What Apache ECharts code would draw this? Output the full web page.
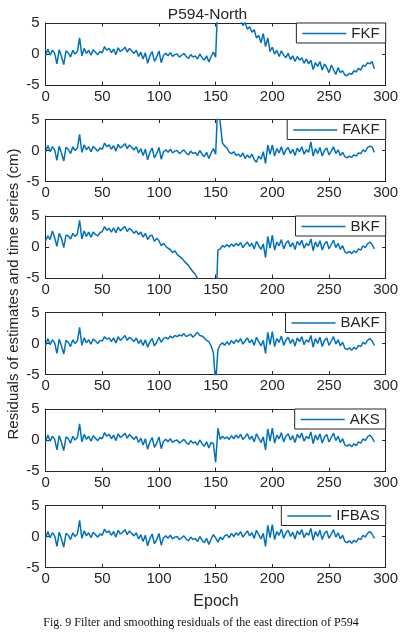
<!DOCTYPE html>
<html>
<head>
<meta charset="utf-8">
<title>P594-North</title>
<script src="https://cdn.jsdelivr.net/npm/echarts@6/dist/echarts.min.js"></script>
<style>
  html, body { margin: 0; padding: 0; background: #fff; }
  #chart { width: 415px; height: 638px; }
</style>
</head>
<body>
<div id="chart"></div>
<script>
// residuals (cm), one value every 2 epochs, epoch 0 .. 290
const epochStep = 2;
const names = ['FKF', 'FAKF', 'BKF', 'BAKF', 'AKS', 'IFBAS'];
const xTickStep = 50;
const yTickStep = 5;

const fkf = [
  -0.3, 0.8, -0.2, 0.6, 0.1, -1.6, 0.7, -0.4, -1.7, 0.5,
  0.2, -0.5, 0.6, 0.0, 0.4, 2.6, -0.3, 0.9, 0.1, 0.6,
  -0.2, 0.7, 0.3, -0.1, 0.4, 0.2, 1.2, 0.6, 0.9, 0.2,
  0.8, -0.1, 1.0, 0.4, 0.7, 1.1, 0.3, 0.9, 0.5, 0.1,
  0.6, -0.4, 0.3, -0.8, 0.2, -1.5, -0.3, 0.4, -1.2, -0.5,
  0.5, -1.4, -0.2, 0.1, -0.3, 0.2, -0.4, -0.1, 0.0, -0.5,
  -0.2, 0.1, -0.4, -0.7, -0.1, -0.5, -0.3, -0.8, 0.0, -0.6,
  -1.0, -0.3, -1.3, -0.4, 0.3, -0.5, 9.0, 11.5, 12.0, 12.5,
  12.0, 11.0, 10.0, 8.5, 7.2, 6.3, 5.5, 4.6, 5.1, 4.0,
  4.4, 3.5, 3.9, 2.6, 3.0, 1.8, 3.3, 1.2, 2.6, 0.4,
  1.1, 0.0, 0.6, -0.4, 0.5, -0.2, -0.6, 0.1, -0.9, -0.3,
  -1.2, -0.4, -1.0, -0.6, -1.5, -0.8, -1.6, -1.0, -2.5, -1.4,
  -2.0, -1.2, -2.6, -1.6, -2.2, -3.0, -1.8, -2.5, -3.3, -2.2,
  -3.0, -2.7, -3.4, -3.5, -3.1, -3.3, -2.7, -2.9, -2.3, -2.6,
  -1.8, -2.0, -1.4, -1.6, -1.2, -2.4
];

const fakf = [
  -0.3, 0.8, -0.2, 0.6, 0.1, -1.6, 0.7, -0.4, -1.7, 0.5,
  0.2, -0.5, 0.6, 0.0, 0.4, 2.6, -0.3, 0.9, 0.1, 0.6,
  -0.2, 0.7, 0.3, -0.1, 0.4, 0.2, 1.2, 0.6, 0.9, 0.2,
  0.8, -0.1, 1.0, 0.4, 0.7, 1.1, 0.3, 0.9, 0.5, 0.1,
  0.6, -0.4, 0.3, -0.8, 0.2, -1.5, -0.3, 0.4, -1.2, -0.5,
  0.5, -1.4, -0.2, 0.1, -0.3, 0.2, -0.4, -0.1, 0.0, -0.5,
  -0.2, 0.1, -0.4, -0.7, -0.1, -0.5, -0.3, -0.8, 0.0, -0.6,
  -1.0, -0.3, -1.3, -0.4, 0.3, -0.6, 8.0, 4.5, 1.2, 0.7,
  0.4, -0.3, -0.5, -0.2, -0.8, -0.6, -1.0, -0.4, -1.3, -0.7,
  -1.2, -0.6, -1.5, -1.9, -0.9, -1.4, -0.2, -2.1, 0.9, -0.6,
  0.9, -0.9, 0.3, -0.4, 0.6, -0.7, 0.1, 0.5, -0.5, 0.2,
  -0.8, 0.4, -0.2, 0.6, -0.6, 0.1, -0.3, 1.4, -0.9, 0.3,
  -0.5, 0.5, -0.9, 0.0, 0.4, -0.7, -0.1, 0.6, -0.5, 0.1,
  -0.8, -0.3, -1.0, -1.2, -0.9, -1.1, -0.7, -0.9, -0.4, -0.5,
  0.1, -0.2, 0.5, 0.7, 0.6, -0.3
];

const bkf = [
  1.0, 1.8, 1.2, 2.6, 1.5, 0.1, 2.2, 1.4, -0.1, 1.9,
  1.8, 1.3, 2.2, 1.7, 2.1, 4.3, 1.3, 2.6, 1.7, 2.4,
  1.6, 2.4, 2.0, 1.8, 2.3, 2.5, 3.3, 2.7, 3.0, 2.4,
  3.1, 2.3, 3.2, 2.6, 3.0, 3.3, 2.5, 3.0, 2.7, 2.2,
  2.6, 2.0, 2.4, 1.6, 2.2, 1.2, 1.8, 1.9, 0.9, 1.4,
  1.0, 0.2, 0.6, 0.1, -0.2, -0.4, -0.9, -0.6, -1.2, -1.5,
  -1.8, -2.2, -2.6, -3.0, -3.5, -4.0, -4.4, -5.1, -5.6, -6.3,
  -7.5, -8.5, -9.2, -10.0, -10.5, -11.0, -0.5, -0.3, 0.2, 0.0,
  0.4, 0.0, 0.5, 0.1, 0.6, 0.2, 0.7, -0.1, 0.4, 0.8,
  0.1, 0.6, -0.3, 0.9, 0.2, -0.4, 0.5, -1.7, 1.7, -0.2,
  1.9, -0.5, 0.8, 0.2, 1.2, -0.3, 0.6, 1.0, 0.0, 0.7,
  -0.4, 0.9, 0.3, 1.1, -0.2, 0.6, 0.2, 1.3, -0.6, 0.8,
  0.0, 1.0, -0.5, 0.5, 0.9, -0.3, 0.4, 1.1, -0.1, 0.6,
  -0.4, 0.2, -0.8, -1.0, -0.7, -1.1, -0.6, -0.9, -0.3, -0.5,
  0.2, -0.1, 0.5, 0.8, 0.4, -0.3
];

const bakf = [
  -0.3, 0.8, -0.2, 0.6, 0.1, -1.6, 0.7, -0.4, -1.7, 0.5,
  0.2, -0.5, 0.6, 0.0, 0.4, 2.6, -0.3, 0.9, 0.1, 0.6,
  -0.1, 0.7, 0.4, 0.0, 0.5, 0.4, 1.1, 0.7, 0.9, 0.3,
  0.9, 0.1, 1.1, 0.5, 0.9, 1.3, 0.5, 1.0, 0.7, 0.3,
  0.9, 0.0, 0.6, -0.3, 0.6, -0.6, 0.3, 0.8, -0.4, 0.2,
  1.0, 0.2, 0.8, 1.0, 0.7, 1.2, 0.9, 1.3, 1.1, 1.4,
  1.2, 1.6, 1.1, 1.3, 1.5, 1.0, 1.4, 1.8, 1.3, 1.2,
  0.9, 0.5, 0.3, -0.4, -1.5, -6.5, -1.0, -0.2, 0.1, -0.3,
  0.3, -0.2, 0.5, 0.0, 0.6, 0.2, 0.8, -0.1, 0.4, 0.9,
  0.1, 0.6, -0.3, 1.0, 0.3, -0.4, 0.5, -1.6, 1.8, -0.2,
  1.9, -0.5, 0.8, 0.2, 1.2, -0.3, 0.6, 1.0, 0.0, 0.7,
  -0.4, 0.9, 0.3, 1.1, -0.2, 0.6, 0.2, 1.3, -0.6, 0.8,
  0.0, 1.0, -0.5, 0.5, 0.9, -0.3, 0.4, 1.1, -0.1, 0.6,
  -0.4, 0.2, -0.8, -1.0, -0.7, -1.1, -0.6, -0.9, -0.3, -0.5,
  0.2, -0.1, 0.5, 0.8, 0.4, -0.3
];

const aks = [
  -0.3, 0.8, -0.2, 0.6, 0.1, -1.6, 0.7, -0.4, -1.7, 0.5,
  0.2, -0.5, 0.6, 0.0, 0.4, 2.6, -0.3, 0.9, 0.1, 0.6,
  -0.2, 0.7, 0.3, -0.1, 0.4, 0.2, 1.2, 0.6, 0.9, 0.2,
  0.8, -0.1, 1.0, 0.4, 0.7, 1.1, 0.3, 0.9, 0.5, 0.1,
  0.6, -0.4, 0.3, -0.8, 0.2, -1.5, -0.3, 0.4, -1.2, -0.5,
  0.5, -1.4, -0.2, 0.1, -0.3, 0.2, -0.4, -0.1, 0.0, -0.5,
  -0.2, 0.1, -0.4, -0.7, -0.1, -0.5, -0.3, -0.8, 0.0, -0.6,
  -1.0, -0.3, -1.3, -0.4, -0.6, -3.6, 1.9, 0.1, 0.6, 0.2,
  0.5, 0.1, 0.7, 0.2, 0.8, 0.3, 0.9, 0.1, 0.5, 1.0,
  0.1, 0.6, -0.3, 1.0, 0.3, -0.4, 0.5, -1.6, 1.8, -0.2,
  1.9, -0.5, 0.8, 0.2, 1.2, -0.3, 0.6, 1.0, 0.0, 0.7,
  -0.4, 0.9, 0.3, 1.1, -0.2, 0.6, 0.2, 1.3, -0.6, 0.8,
  0.0, 1.0, -0.5, 0.5, 0.9, -0.3, 0.4, 1.1, -0.1, 0.6,
  -0.4, 0.2, -0.8, -1.0, -0.7, -1.1, -0.6, -0.9, -0.3, -0.5,
  0.2, -0.1, 0.5, 0.8, 0.4, -0.3
];

const ifbas = [
  -0.3, 0.8, -0.2, 0.6, 0.1, -1.6, 0.7, -0.4, -1.7, 0.5,
  0.2, -0.5, 0.6, 0.0, 0.4, 2.6, -0.3, 0.9, 0.1, 0.6,
  -0.2, 0.7, 0.3, -0.1, 0.4, 0.2, 1.2, 0.6, 0.9, 0.2,
  0.8, -0.1, 1.0, 0.4, 0.7, 1.1, 0.3, 0.9, 0.5, 0.1,
  0.6, -0.4, 0.3, -0.8, 0.2, -1.5, -0.3, 0.4, -1.2, -0.5,
  0.5, -1.4, -0.2, 0.1, -0.3, 0.2, -0.4, -0.1, 0.0, -0.5,
  -0.2, 0.1, -0.4, -0.7, -0.1, -0.5, -0.3, -0.8, 0.0, -0.6,
  -1.0, -0.3, -1.3, -0.4, 0.3, -0.2, -0.9, -0.1, -0.5, 0.1,
  0.3, -0.2, 0.5, 0.0, 0.6, 0.2, 0.8, -0.1, 0.4, 0.9,
  0.1, 0.6, -0.3, 1.0, 0.3, -0.4, 0.5, -1.6, 1.8, -0.2,
  1.9, -0.5, 0.8, 0.2, 1.2, -0.3, 0.6, 1.0, 0.0, 0.7,
  -0.4, 0.9, 0.3, 1.1, -0.2, 0.6, 0.2, 1.3, -0.6, 0.8,
  0.0, 1.0, -0.5, 0.5, 0.9, -0.3, 0.4, 1.1, -0.1, 0.6,
  -0.4, 0.2, -0.8, -1.0, -0.7, -1.1, -0.6, -0.9, -0.3, -0.5,
  0.2, -0.1, 0.5, 0.8, 0.4, -0.3
];

const panels = [fkf, fakf, bkf, bakf, aks, ifbas];

const lineColor = '#0072BD';
const axisColor = '#262626';
const font = '"Liberation Sans", Arial, sans-serif';
const gridLeft = 45.6;
const gridRight = 29.3;
const gridTop = 23;
const gridStep = 96.5;
const gridHeight = 62;

const chart = echarts.init(document.getElementById('chart'), null, { renderer: 'canvas' });

function axisBase(gridIndex, position, showLabel) {
  return {
    gridIndex,
    position,
    splitLine: { show: false },
    axisLine: { show: true, onZero: false, lineStyle: { color: axisColor, width: 1 } },
    axisTick: { show: true, inside: true, length: 3.5, lineStyle: { color: axisColor } },
    axisLabel: {
      show: showLabel,
      color: axisColor,
      fontFamily: font,
      fontSize: 15
    }
  };
}

const grid = [];
const xAxis = [];
const yAxis = [];
const series = [];
const legend = [];

panels.forEach((values, i) => {
  const top = gridTop + gridStep * i;
  grid.push({ left: gridLeft, right: gridRight, top, height: gridHeight });

  ['bottom', 'top'].forEach((pos, k) => {
    const ax = axisBase(i, pos, k === 0);
    ax.type = 'value';
    ax.min = 0;
    ax.max = 300;
    ax.interval = xTickStep;
    ax.axisLabel.margin = 4;
    xAxis.push(ax);
  });
  ['left', 'right'].forEach((pos, k) => {
    const ax = axisBase(i, pos, k === 0);
    ax.type = 'value';
    ax.min = -5;
    ax.max = 5;
    ax.interval = yTickStep;
    ax.axisLabel.margin = 6;
    yAxis.push(ax);
  });

  series.push({
    type: 'line',
    name: names[i],
    xAxisIndex: 2 * i,
    yAxisIndex: 2 * i,
    data: values.map((v, k) => [k * epochStep, v]),
    symbol: 'none',
    showSymbol: false,
    clip: true,
    lineStyle: { color: lineColor, width: 1.5 },
    itemStyle: { color: lineColor },
    animation: false
  });

  legend.push({
    data: [names[i]],
    right: gridRight,
    top,
    orient: 'vertical',
    icon: 'rect',
    itemWidth: 44,
    itemHeight: 1.6,
    itemGap: 0,
    padding: [3, 6, 2, 6],
    borderColor: axisColor,
    borderWidth: 1,
    borderRadius: 0,
    backgroundColor: '#fff',
    selectedMode: false,
    textStyle: { color: axisColor, fontFamily: font, fontSize: 15, padding: [0, 0, 0, 0] }
  });
});

const option = {
  backgroundColor: '#fff',
  animation: false,
  title: {
    text: 'P594-North',
    left: 'center',
    top: 2,
    textStyle: { color: axisColor, fontFamily: font, fontSize: 15.5, fontWeight: 'normal' }
  },
  grid,
  xAxis,
  yAxis,
  legend,
  series,
  graphic: [
    {
      type: 'text',
      x: 14,
      y: 294,
      rotation: Math.PI / 2,
      style: {
        text: 'Residuals of estimates and time series (cm)',
        fill: axisColor,
        font: '15px ' + font,
        textAlign: 'center',
        textVerticalAlign: 'middle'
      }
    },
    {
      type: 'text',
      x: 216,
      y: 602,
      style: {
        text: 'Epoch',
        fill: axisColor,
        font: '16px ' + font,
        textAlign: 'center',
        textVerticalAlign: 'middle'
      }
    },
    {
      type: 'text',
      x: 201,
      y: 623,
      style: {
        text: 'Fig. 9 Filter and smoothing residuals of the east direction of P594',
        fill: '#111',
        font: '12px "Liberation Serif", "Times New Roman", serif',
        textAlign: 'center',
        textVerticalAlign: 'middle'
      }
    }
  ]
};

chart.setOption(option);
</script>
</body>
</html>
